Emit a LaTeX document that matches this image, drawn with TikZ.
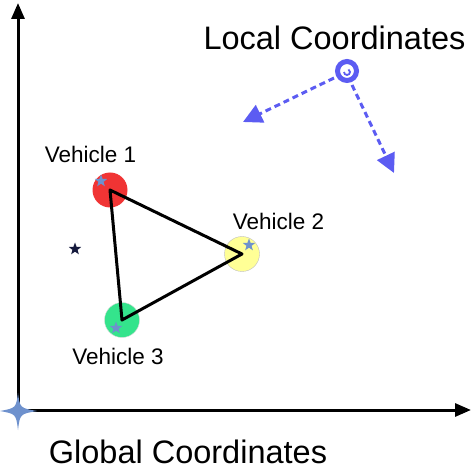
\documentclass[tikz,border=0pt]{standalone}
\usepackage{fontspec}
\setmainfont{Liberation Sans}
\usepackage{tikz}
\usetikzlibrary{arrows.meta,shapes.geometric}

\definecolor{vred}{RGB}{240,52,52}
\definecolor{vyellow}{RGB}{255,255,150}
\definecolor{vgreen}{RGB}{52,228,140}
\definecolor{starblue}{RGB}{110,145,205}
\definecolor{localblue}{RGB}{92,92,242}
\definecolor{darkstar}{RGB}{20,25,60}

\tikzset{
  axis/.style={line width=3pt,-{Triangle[length=16pt,width=13pt]}},
  vehicle/.style={circle,minimum size=35pt,inner sep=0pt},
  mark star/.style={star,star points=5,star point ratio=2.4,minimum size=13pt,inner sep=0pt,fill=starblue},
  label text/.style={inner sep=0pt,anchor=base,font=\fontsize{22.5}{26}\selectfont},
  big text/.style={inner sep=0pt,anchor=base,font=\fontsize{32.5}{38}\selectfont},
  local arrow/.style={localblue,line width=3pt,dash pattern=on 6pt off 4pt,
    -{Triangle[length=19pt,width=19pt]}},
  link/.style={line width=3pt,line join=round}
}

\begin{document}
\begin{tikzpicture}[x=1pt,y=-1pt]
\useasboundingbox (0,0) rectangle (474,470);
% global frame
\coordinate (origin) at (18,410);
\coordinate (xend) at (471,410);
\coordinate (yend) at (18,3);
\draw [axis] (origin) -- (yend);
\draw [axis] (origin) -- (xend);
\fill [starblue] (18,393) .. controls (20,408) .. (37,411)
  .. controls (20,414) .. (18,430) .. controls (16,414) .. (0,411)
  .. controls (16,408) .. (18,393);
\node (global) [big text] at (188,463) {Global Coordinates};
% local frame
\node (local) [big text] at (334.5,50) {Local Coordinates};
\coordinate (lorigin) at (347,71);
\coordinate (lx) at (243,122);
\coordinate (ly) at (394,173);
\draw [local arrow] (334,78) -- (lx);
\draw [local arrow] (352,85) -- (ly);
\draw [localblue,line width=5pt,fill=white] (lorigin) circle [radius=9.5];
\draw [localblue,line width=1.8pt] (344,72) arc [start angle=180,end angle=-60,radius=3];
% vehicles
\node (v1) [vehicle,fill=vred] at (110,190) {};
\node (v2) [vehicle,fill=vyellow,draw=black!25,thin] at (242,254) {};
\node (v3) [vehicle,fill=vgreen,draw=black!15,thin] at (122,320) {};
\draw [link] (v1.center) -- (v2.center) -- (v3.center) -- cycle;
\node (s1) [mark star] at (101,181) {};
\node (s2) [mark star] at (249,245) {};
\node (s3) [mark star] at (116,328) {};
\node (target) [mark star,fill=darkstar] at (75,249) {};
\node (l1) [label text] at (90.5,163) {Vehicle 1};
\node (l2) [label text] at (278.5,230) {Vehicle 2};
\node (l3) [label text] at (118,364) {Vehicle 3};
\end{tikzpicture}
\end{document}
